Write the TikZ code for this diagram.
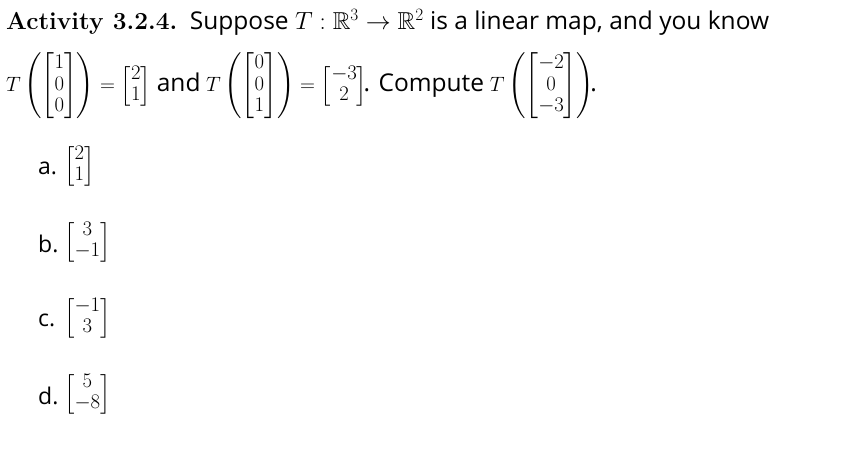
\documentclass[tikz,border=0pt]{standalone}
\usepackage{amsmath,amssymb}
\usepackage{fontspec}
\setmainfont{Open Sans}
\newfontfamily\lmr{Latin Modern Roman}
\renewcommand{\arraystretch}{0.82}
\begin{document}
\begin{tikzpicture}[x=1pt,y=-1pt]
\useasboundingbox (0,0) rectangle (868,454);
\tikzset{txt/.style={anchor=west,inner sep=0pt,font=\fontsize{24.5}{28}\selectfont},
 lab/.style={anchor=west,inner sep=0pt,font=\fontsize{23}{28}\selectfont},
 mat/.style={anchor=west,inner sep=0pt,font=\fontsize{22}{26}\selectfont}}
\node[txt] (title) at (6,22) {{\lmr\bfseries Activity 3.2.4.}\ \ Suppose $T:\mathbb{R}^3\to\mathbb{R}^2$ is a linear map, and you know};
\node[mat] (eq) at (6,86) {$T\left(\begin{bmatrix}1\\0\\0\end{bmatrix}\right)=\begin{bmatrix}2\\1\end{bmatrix}$ {\fontsize{24.5}{28}\selectfont and} $T\left(\begin{bmatrix}0\\0\\1\end{bmatrix}\right)=\begin{bmatrix}-3\\2\end{bmatrix}$\!{\fontsize{24.5}{28}\selectfont. Compute} $T\left(\begin{bmatrix}-2\\0\\-3\end{bmatrix}\right)$\!{\fontsize{24.5}{28}\selectfont.}};
\node[lab] (la) at (38,168) {a.};
\node[mat] (ma) at (64,166) {$\begin{bmatrix}2\\1\end{bmatrix}$};
\node[lab] (lb) at (38,244) {b.};
\node[mat] (mb) at (64,242) {$\begin{bmatrix}3\\-1\end{bmatrix}$};
\node[lab] (lc) at (38,320) {c.};
\node[mat] (mc) at (64,318) {$\begin{bmatrix}-1\\3\end{bmatrix}$};
\node[lab] (ld) at (38,396) {d.};
\node[mat] (md) at (64,394) {$\begin{bmatrix}5\\-8\end{bmatrix}$};
\end{tikzpicture}
\end{document}
